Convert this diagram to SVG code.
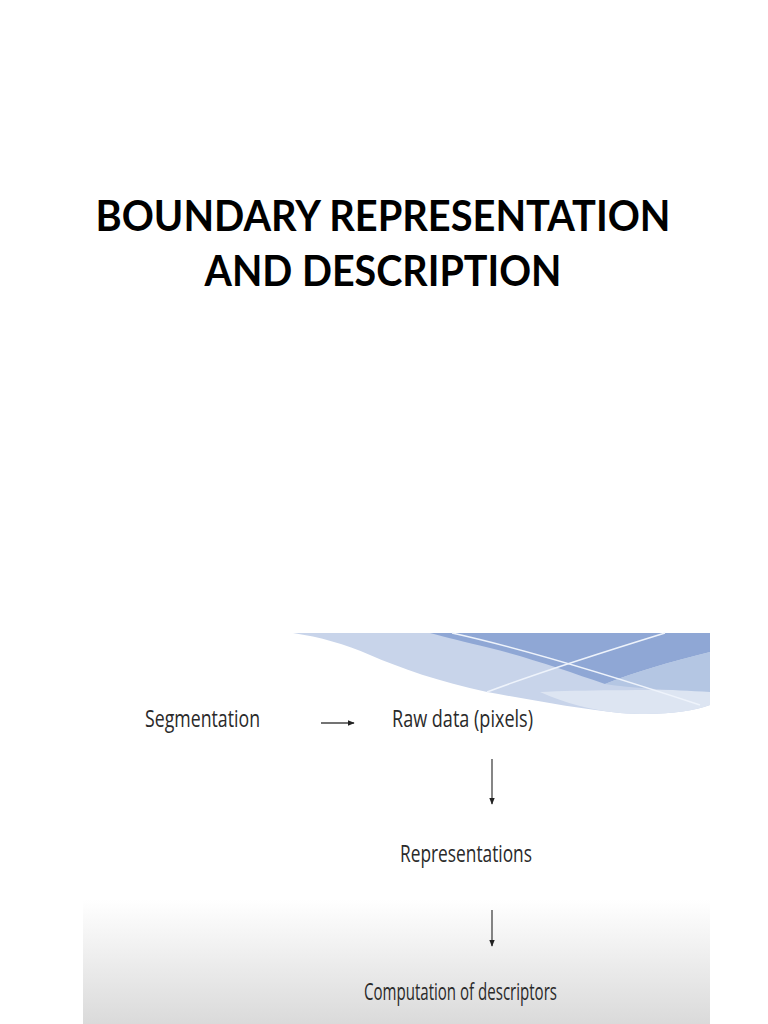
<svg xmlns="http://www.w3.org/2000/svg" width="768" height="1024" viewBox="0 0 768 1024">
<defs>
<linearGradient id="fade" x1="0" y1="0" x2="0" y2="1">
<stop offset="0" stop-color="#ffffff"/>
<stop offset="1" stop-color="#dadada"/>
</linearGradient>
<marker id="ah" viewBox="0 0 10 10" refX="9" refY="5" markerWidth="7" markerHeight="7" orient="auto" markerUnits="userSpaceOnUse">
<path d="M0,1 L10,5 L0,9 Z" fill="#222"/>
</marker>
<style>
.title{font-family:Lato,"Open Sans","Liberation Sans",sans-serif;font-weight:bold;font-size:42px;fill:#000}
.lbl{font-family:"Open Sans","Liberation Sans",sans-serif;font-size:24px;fill:#2a2a2a}
.conn{stroke:#444;stroke-width:1.3;fill:none;marker-end:url(#ah)}
</style>
</defs>
<rect width="768" height="1024" fill="#ffffff"/>
<g id="title">
<text class="title" x="383" y="231" text-anchor="middle" textLength="575" lengthAdjust="spacingAndGlyphs">BOUNDARY REPRESENTATION</text>
<text class="title" x="383" y="286" text-anchor="middle" textLength="357" lengthAdjust="spacingAndGlyphs">AND DESCRIPTION</text>
</g>
<g id="background">
<rect x="83" y="900" width="627" height="124" fill="url(#fade)"/>
<path d="M293,633 L710,633 L710,705 C690,712 660,716 620,713 C580,709 530,700 487,692 C440,682 400,668 370,655 C345,644 320,637 293,633 Z" fill="#c8d4ea"/>
<path d="M540,692 C580,690 640,690 710,690 L710,705 C690,712 660,716 620,713 C590,710 565,703 540,692 Z" fill="#dde5f2"/>
<path d="M430,633 L710,633 L710,652 C670,662 635,672 605,684 C570,672 530,658 490,648 C465,642 445,637 430,633 Z" fill="#8fa7d5"/>
<path d="M605,684 C635,672 670,662 710,652 L710,692 C670,690 630,688 605,684 Z" fill="#b4c6e3"/>
<path d="M452,633 C520,648 600,672 700,705" stroke="#eef3fb" stroke-width="1.5" fill="none"/>
<path d="M487,692 C540,672 610,650 665,633" stroke="#eef3fb" stroke-width="1.5" fill="none"/>
</g>
<g id="node-segmentation">
<text class="lbl" x="145" y="727" textLength="115" lengthAdjust="spacingAndGlyphs">Segmentation</text>
</g>
<g id="node-raw">
<text class="lbl" x="392" y="727" textLength="141" lengthAdjust="spacingAndGlyphs">Raw data (pixels)</text>
</g>
<g id="node-rep">
<text class="lbl" x="400" y="862" textLength="132" lengthAdjust="spacingAndGlyphs">Representations</text>
</g>
<g id="node-comp">
<text class="lbl" x="364" y="1000" textLength="193" lengthAdjust="spacingAndGlyphs">Computation of descriptors</text>
</g>
<g id="connectors">
<line class="conn" x1="321" y1="723" x2="354" y2="723"/>
<line class="conn" x1="492" y1="759" x2="492" y2="804"/>
<line class="conn" x1="492" y1="910" x2="492" y2="946"/>
</g>
</svg>
